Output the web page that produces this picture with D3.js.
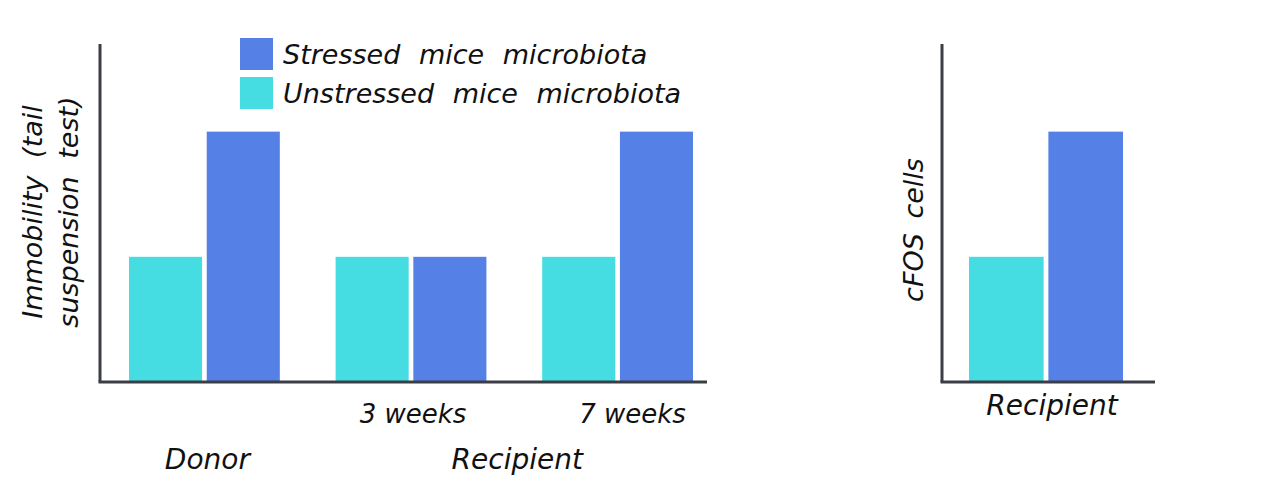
<!DOCTYPE html>
<html>
<head>
<meta charset="utf-8">
<script src="https://cdn.jsdelivr.net/npm/d3@7"></script>
<style>
  html, body { margin: 0; padding: 0; background: #fff; }
  svg text { font-family: "DejaVu Sans", sans-serif; font-style: italic; fill: #111; }
</style>
</head>
<body>
<div id="chart"></div>
<script>
// values (arbitrary units, no y ticks shown)
const groups = ["Donor", "3 weeks", "7 weeks"];
const tickLabels = ["", "3 weeks", "7 weeks"];
const seriesNames = ["Unstressed mice microbiota", "Stressed mice microbiota"];
const immobilityUnstressed = [1, 1, 1];
const immobilityStressed = [2, 1, 2];
const cfosGroups = ["Recipient"];
const cfosUnstressed = [1];
const cfosStressed = [2];
const colors = { "Unstressed mice microbiota": "#46dde2", "Stressed mice microbiota": "#5580e6" };

const W = 1280, H = 503;
const svg = d3.select("#chart").append("svg").attr("width", W).attr("height", H);
const axisCol = "#3b3e46";
const y = d3.scaleLinear().domain([0, 2.7]).range([382, 44]);

function barPanel(cats, uns, str, xr, pad, axisX0, axisX1) {
  const x = d3.scaleBand().domain(cats).range(xr).paddingInner(pad).paddingOuter(0);
  const x1 = d3.scaleBand().domain(seriesNames).range([0, x.bandwidth()]).paddingInner(0.06);
  const rows = cats.map((c, i) => ({ c, v: [uns[i], str[i]] }));
  const g = svg.append("g");
  rows.forEach(r => {
    seriesNames.forEach((s, j) => {
      g.append("rect")
        .attr("x", x(r.c) + x1(s)).attr("width", x1.bandwidth())
        .attr("y", y(r.v[j])).attr("height", y(0) - y(r.v[j]))
        .attr("fill", colors[s]);
    });
  });
  // axes
  g.append("line").attr("x1", axisX0).attr("x2", axisX0).attr("y1", y.range()[1]).attr("y2", y(0))
    .attr("stroke", axisCol).attr("stroke-width", 3);
  g.append("line").attr("x1", axisX0 - 1.5).attr("x2", axisX1).attr("y1", y(0)).attr("y2", y(0))
    .attr("stroke", axisCol).attr("stroke-width", 3);
  return x;
}

// left panel: immobility
const xL = barPanel(groups, immobilityUnstressed, immobilityStressed, [129, 693], 0.27, 100, 707);
const tickDx = [0, 2, 15];
svg.append("g").selectAll("text").data(groups).join("text")
  .attr("x", (d, i) => xL(d) + xL.bandwidth() / 2 + tickDx[i]).attr("y", 423)
  .attr("text-anchor", "middle").style("font-size", "26px")
  .text((d, i) => tickLabels[i]);
svg.append("text").attr("x", xL("Donor") + xL.bandwidth() / 2 + 3).attr("y", 469)
  .attr("text-anchor", "middle").style("font-size", "28px").text("Donor");
svg.append("text").attr("x", (xL("3 weeks") + xL("7 weeks") + xL.bandwidth()) / 2 + 3).attr("y", 469)
  .attr("text-anchor", "middle").style("font-size", "28px").text("Recipient");

const yl = svg.append("g").attr("transform", "translate(0,212) rotate(-90)");
yl.append("text").attr("x", 0).attr("y", 42).attr("text-anchor", "middle")
  .style("font-size", "27px").style("word-spacing", "9px").text("Immobility (tail");
yl.append("text").attr("x", 0).attr("y", 78).attr("text-anchor", "middle")
  .style("font-size", "27px").style("word-spacing", "9px").text("suspension test)");

// legend (stressed on top)
const legend = svg.append("g").attr("transform", "translate(240,38)");
seriesNames.slice().reverse().forEach((s, i) => {
  const row = legend.append("g").attr("transform", `translate(0,${i * 39})`);
  row.append("rect").attr("width", 33).attr("height", 32).attr("fill", colors[s]);
  row.append("text").attr("x", 43).attr("y", 26).style("font-size", "27px")
    .style("word-spacing", "10px").text(s);
});

// right panel: cFOS cells
const xR = barPanel(cfosGroups, cfosUnstressed, cfosStressed, [969, 1123], 0, 942, 1155);
svg.append("text").attr("x", xR("Recipient") + xR.bandwidth() / 2 + 6).attr("y", 415)
  .attr("text-anchor", "middle").style("font-size", "28px").text("Recipient");
svg.append("text").attr("transform", "translate(923,230) rotate(-90)")
  .attr("text-anchor", "middle").style("font-size", "27px").style("word-spacing", "6px").text("cFOS cells");
</script>
</body>
</html>
